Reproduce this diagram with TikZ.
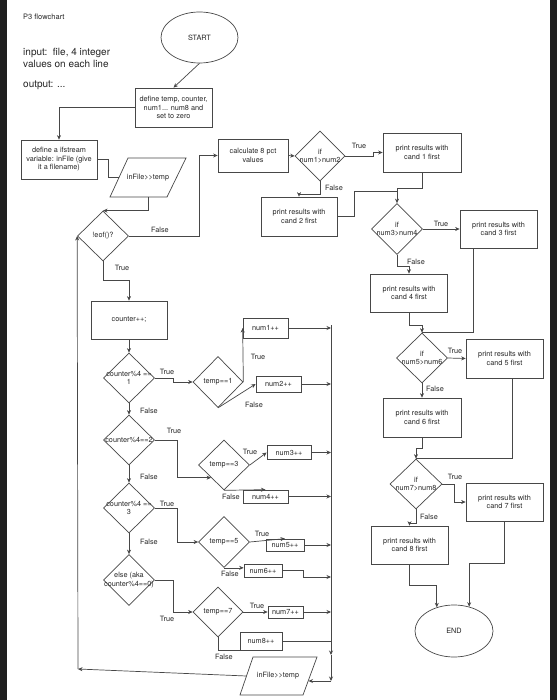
\documentclass[tikz,border=0pt]{standalone}
\usepackage{fontspec}
\setmainfont{TeX Gyre Heros}
\usetikzlibrary{shapes.geometric,arrows.meta}
\begin{document}
\begin{tikzpicture}[x=1pt,y=-1pt,
  every node/.style={font=\fontsize{7.3}{8.5}\selectfont, text=black!85},
  line/.style={draw=black!72, line width=0.7pt},
  arr/.style={line, -{Stealth[length=4.5pt,width=4pt]}},
  shp/.style={draw=black!72, line width=0.7pt},
  box/.style={shp, rectangle, align=center, inner sep=1pt},
  dia/.style={shp, diamond, inner sep=0pt, minimum width=51pt, minimum height=50pt},
  dtext/.style={align=center, inner sep=0pt},
  oval/.style={shp, ellipse, inner sep=0pt},
  lbl/.style={inner sep=0pt},
  nbox/.style={box, inner sep=0pt},
]
\useasboundingbox (0,0) rectangle (557,700);
\fill[white] (0,0) rectangle (557,700);
\fill[black!88] (0,0) rectangle (7,700);
\fill[black!88] (550,0) rectangle (557,700);

% header texts
\node[anchor=base west, inner sep=0pt, font=\fontsize{7.5}{9}\selectfont] (title) at (23,20) {P3 flowchart};
\node[anchor=base west, inner sep=0pt, font=\fontsize{10}{11}\selectfont] (in1l) at (23,56) {input:\ \ file, 4 integer};
\node[anchor=base west, inner sep=0pt, font=\fontsize{10}{11}\selectfont] (in2l) at (23,67.5) {values on each line};
\node[anchor=base west, inner sep=0pt, font=\fontsize{10}{11}\selectfont] (outl) at (23,88) {output: ...};

% top
\node[oval, minimum width=77pt, minimum height=51pt] (start) at (199.5,37.5) {START};
\node[box, minimum width=77pt, minimum height=39pt] (def) at (173.5,107.5) {define temp, counter,\\num1... num8 and\\set to zero};
\node[box, minimum width=76pt, minimum height=39pt] (ifs) at (59,159.5) {define a ifstream\\variable: inFile (give\\it a filename)};
% input parallelogram 1
\draw[shp] (128,158) -- (186,158) -- (167,197) -- (110,197) -- cycle;
\node[inner sep=0pt] (rd1) at (148,177.5) {inFile>{}>temp};
\coordinate (rd1w) at (119,177.5);
\coordinate (rd1s) at (148,197);
\node[dia] (eof) at (103,236) {};
\node[dtext] at (eof) {!eof()?};

% right column
\node[box, minimum width=70pt, minimum height=33pt] (calc) at (253,155.5) {calculate 8 pct\\values};
\node[dia, minimum width=50pt] (c12) at (320,156) {};
\node[dtext] at (c12) {if\\num1>num2};
\node[box, minimum width=78pt, minimum height=39pt] (p1) at (422,152.5) {print results with\\cand 1 first};
\node[box, minimum width=76pt, minimum height=39pt] (p2) at (299,216.5) {print results with\\cand 2 first};
\node[dia, minimum height=51pt] (c34) at (397,229) {};
\node[dtext] at (c34) {if\\num3>num4};
\node[box, minimum width=77pt, minimum height=38pt] (p3) at (498.5,229) {print results with\\cand 3 first};
\node[box, minimum width=77pt, minimum height=38pt] (p4) at (409,293) {print results with\\cand 4 first};
\node[dia] (c56) at (422,358) {};
\node[dtext] at (c56) {if\\num5>num6};
\node[box, minimum width=77pt, minimum height=39pt] (p5) at (504.5,358.5) {print results with\\cand 5 first};
\node[box, minimum width=78pt, minimum height=39pt] (p6) at (422,417.5) {print results with\\cand 6 first};
\node[dia, minimum width=52pt] (c78) at (416,484) {};
\node[dtext] at (c78) {if\\num7>num8};
\node[box, minimum width=77pt, minimum height=38pt] (p7) at (504.5,502) {print results with\\cand 7 first};
\node[box, minimum width=77pt, minimum height=38pt] (p8) at (409.5,545) {print results with\\cand 8 first};
\node[oval, minimum width=78pt, minimum height=52pt] (end) at (454,631) {END};

% left loop
\node[box, minimum width=76pt, minimum height=38pt] (cnt) at (129,320) {counter++;};
\node[dia] (d1) at (129,378) {};
\node[dtext] at (d1) {counter\%4 ==\\1};
\node[dia] (d2) at (129,440) {};
\node[dtext] at (d2) {counter\%4==2};
\node[dia] (d3) at (129,508) {};
\node[dtext] at (d3) {counter\%4 ==\\3};
\node[dia, minimum height=51pt] (d4) at (129,580) {};
\node[dtext] at (d4) {else (aka\\counter\%4==0)};

\node[dia, minimum width=50pt, minimum height=51pt] (t1) at (218,382) {};
\node[dtext] at (t1) {temp==1};
\node[dia] (t3) at (224,465) {};
\node[dtext] at (t3) {temp==3};
\node[dia, minimum height=51pt] (t5) at (224,542) {};
\node[dtext] at (t5) {temp==5};
\node[dia, minimum width=50pt] (t7) at (218,612) {};
\node[dtext] at (t7) {temp==7};

\node[nbox, minimum width=45pt, minimum height=20pt] (n1) at (265.5,328) {num1++};
\node[nbox, minimum width=45pt, minimum height=16pt] (n2) at (278.5,384) {num2++};
\node[nbox, minimum width=44pt, minimum height=14pt] (n3) at (289,452.5) {num3++};
\node[nbox, minimum width=45pt, minimum height=13pt] (n4) at (265.5,496.5) {num4++};
\node[nbox, minimum width=38pt, minimum height=12pt] (n5) at (285,545) {num5++};
\node[nbox, minimum width=38pt, minimum height=13pt] (n6) at (263,570.5) {num6++};
\node[nbox, minimum width=35pt, minimum height=12pt] (n7) at (285.5,612) {num7++};
\node[nbox, minimum width=42pt, minimum height=18pt] (n8) at (261,641) {num8++};
% input parallelogram 2
\draw[shp] (253,657) -- (317,657) -- (303,695) -- (240,695) -- cycle;
\node[inner sep=0pt] (rd2) at (278,676) {inFile>{}>temp};
\coordinate (rd2w) at (246.5,676);
\coordinate (rd2e) at (308.5,681);

\coordinate (bus) at (331,0);
\coordinate (busend) at (331,655);
\coordinate (busbot) at (331,681);
\coordinate (lp) at (78,669);

% connectors top
\draw[arr] (start.south) -- (def.north);
\draw[arr] (def.west) -| (ifs.north);
\draw[line] (ifs.east) -- (108,159.5) |- (rd1w);
\draw[arr] (rd1s) |- (eof.north);
\draw[arr] (eof.east) -- (199,236) |- (calc.west);
\node[lbl] at (160,230) {False};
\draw[arr] (eof.south) -- (103,280) -| (cnt.north);
\node[lbl] at (122,268) {True};

% right column connectors
\draw[arr] (calc.east) -- (c12.west);
\draw[arr] (c12.east) -- (373,156) -- (373,152.5) -- (p1.west);
\node[lbl] at (359,146) {True};
\draw[arr] (c12.south) -- (320,194) -| (p2.north);
\node[lbl] at (334,188) {False};
\draw[arr] (p1.south) -- (422,188) -| (c34.north);
\draw[line] (p2.east) -| (354,191) -- (397,191);
\draw[arr] (c34.east) -- (p3.west);
\node[lbl] at (441,224) {True};
\draw[arr] (c34.south) -- (397,266) -| (p4.north);
\node[lbl] at (416,262) {False};
\draw[arr] (p4.south) -- (409,325) -| (c56.north);
\draw[line] ([xshift=-25.5pt]p3.south) |- (c56.north);
\draw[arr] (c56.east) -- (p5.west);
\node[lbl] at (455,351) {True};
\draw[arr] (c56.south) -- (p6.north);
\node[lbl] at (435,389) {False};
\draw[arr] (p6.south) -- (422,448) -| (c78.north);
\draw[line] ([xshift=7.5pt]p5.south) |- (c78.north);
\draw[arr] (c78.east) -- (454,484) |- (p7.west);
\node[lbl] at (455,477) {True};
\draw[arr] (c78.south) -- (416,523) -| (p8.north);
\node[lbl] at (429,517) {False};
\draw[arr] (p8.south) -- (409.5,585) -| (end.126);
\draw[arr] (p7.south) -- (504.5,563) -| (end.58);

% left connectors
\draw[arr] (cnt.south) -- (d1.north);
\draw[arr] (d1.east) -- (173,378) -- (173,382) -- (t1.west);
\node[lbl] at (167,372) {True};
\draw[arr] (d1.south) -- (d2.north);
\node[lbl] at (149,411) {False};
\draw[arr] (d2.east) -- (177,440) |- (t3.south west);
\node[lbl] at (174,431) {True};
\draw[arr] (d2.south) -- (d3.north);
\node[lbl] at (149,477) {False};
\draw[arr] (d3.east) -- (177,508) |- (t5.west);
\node[lbl] at (167,504) {True};
\draw[arr] (d3.south) -- (d4.north);
\node[lbl] at (149,542) {False};
\draw[arr] (d4.east) -- (173,580) |- (t7.west);
\node[lbl] at (167,619) {True};

\draw[arr] (t1.east) -- (n1.west);
\node[lbl] at (258,357) {True};
\draw[arr] (t1.south) -- (n2.west);
\node[lbl] at (254,405) {False};
\draw[arr] (t3.east) -- (n3.west);
\node[lbl] at (250,452) {True};
\draw[arr] (t3.south) -- (n4.north);
\node[lbl] at (231,497) {False};
\draw[arr] (t5.east) -- (n5.north);
\node[lbl] at (262,534) {True};
\draw[arr] (t5.south) -- (t5.south -| n6.west);
\node[lbl] at (230,574) {False};
\draw[arr] (t7.east) -- (n7.west);
\node[lbl] at (257,606) {True};
\draw[line] (t7.south) |- (n8.south west);
\node[lbl] at (224,657) {False};

\draw[arr] (n1.east) -- (n1.east -| bus);
\draw[arr] (n2.east) -- (n2.east -| bus);
\draw[arr] (n3.east) -- (n3.east -| bus);
\draw[arr] (n4.east) -- (n4.east -| bus);
\draw[arr] (n5.east) -- (n5.east -| bus);
\draw[arr] (n6.east) -- (303,570.5) -- (303,577) -- (bus |- 0,577);
\draw[arr] (n7.east) -- (n7.east -| bus);
\draw[line] (n8.east) -- (n8.east -| bus);
\draw[arr] (bus |- 0,325) -- (busend);
\draw[arr] (busend) -- (busbot);
\draw[arr] (busbot) -- (rd2e);
\draw[arr] (rd2w) -- (lp);
\draw[arr] (lp) -- (eof.west);
\end{tikzpicture}
\end{document}
